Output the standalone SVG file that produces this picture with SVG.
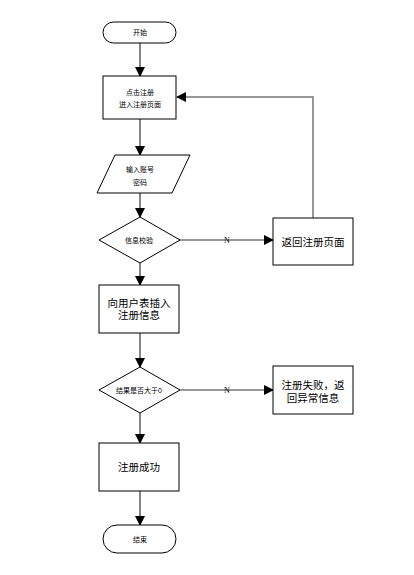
<svg xmlns="http://www.w3.org/2000/svg" width="414" height="575" viewBox="0 0 414 575">
<defs>
<marker id="arr" markerWidth="10" markerHeight="10" refX="9" refY="5" orient="auto" markerUnits="userSpaceOnUse">
<path d="M0,0 L10,5 L0,10 Z" fill="#000"/>
</marker>
<style>
.shape{fill:#fff;stroke:#000;stroke-width:1}
.t{font-family:"Liberation Sans","Noto Sans CJK SC",sans-serif;fill:#000;text-anchor:middle;dominant-baseline:central}
.s{font-size:7px}
.m{font-size:10.5px}
.line{fill:none;stroke:#333;stroke-width:1.2}
.loop{fill:none;stroke:#777;stroke-width:1.5}
.lbl{font-family:"Liberation Serif",serif;font-size:8px;fill:#000;text-anchor:middle;dominant-baseline:central}
</style>
</defs>
<rect width="414" height="575" fill="#fff"/>
<g id="connectors">
<line class="line" x1="140" y1="43" x2="140" y2="76" marker-end="url(#arr)"/>
<line class="line" x1="140" y1="119" x2="140" y2="155" marker-end="url(#arr)"/>
<line class="line" x1="140" y1="193" x2="140" y2="217" marker-end="url(#arr)"/>
<line class="line" x1="140" y1="263" x2="140" y2="285" marker-end="url(#arr)"/>
<line class="line" x1="140" y1="333" x2="140" y2="367" marker-end="url(#arr)"/>
<line class="line" x1="140" y1="413" x2="140" y2="443" marker-end="url(#arr)"/>
<line class="line" x1="140" y1="491" x2="140" y2="525" marker-end="url(#arr)"/>
<line class="line" x1="180" y1="240" x2="273" y2="240" marker-end="url(#arr)"/>
<text class="lbl" x="227" y="240">N</text>
<line class="line" x1="180" y1="390" x2="273" y2="390" marker-end="url(#arr)"/>
<text class="lbl" x="227" y="390">N</text>
<polyline class="loop" points="313,218 313,97 177,97" marker-end="url(#arr)"/>
</g>
<g id="start">
<rect class="shape" x="103" y="22" width="73" height="21" rx="10.5"/>
<text class="t s" x="140" y="32.5">开始</text>
</g>
<g id="open-register">
<rect class="shape" x="103" y="76" width="73" height="43"/>
<text class="t s" x="140" y="92">点击注册</text>
<text class="t s" x="140" y="104">进入注册页面</text>
</g>
<g id="input">
<polygon class="shape" points="115,155 190,155 172,193 97,193"/>
<text class="t s" x="140" y="169">输入账号</text>
<text class="t s" x="140" y="182">密码</text>
</g>
<g id="verify">
<polygon class="shape" points="140,217 180,240 140,263 99,240"/>
<text class="t s" x="139" y="240">信息校验</text>
</g>
<g id="return">
<rect class="shape" x="273" y="218" width="80" height="47"/>
<text class="t m" x="313" y="242">返回注册页面</text>
</g>
<g id="insert">
<rect class="shape" x="99" y="285" width="80" height="48"/>
<text class="t m" x="139" y="303">向用户表插入</text>
<text class="t m" x="139" y="315">注册信息</text>
</g>
<g id="check">
<polygon class="shape" points="140,367 180,390 140,413 99,390"/>
<text class="t s" x="139" y="390">结果是否大于0</text>
</g>
<g id="fail">
<rect class="shape" x="273" y="366" width="80" height="48"/>
<text class="t m" x="313" y="385">注册失败，返</text>
<text class="t m" x="313" y="398">回异常信息</text>
</g>
<g id="success">
<rect class="shape" x="99" y="443" width="80" height="48"/>
<text class="t m" x="139" y="467">注册成功</text>
</g>
<g id="end">
<rect class="shape" x="103" y="525" width="73" height="28" rx="14"/>
<text class="t s" x="140" y="539">结束</text>
</g>
</svg>
